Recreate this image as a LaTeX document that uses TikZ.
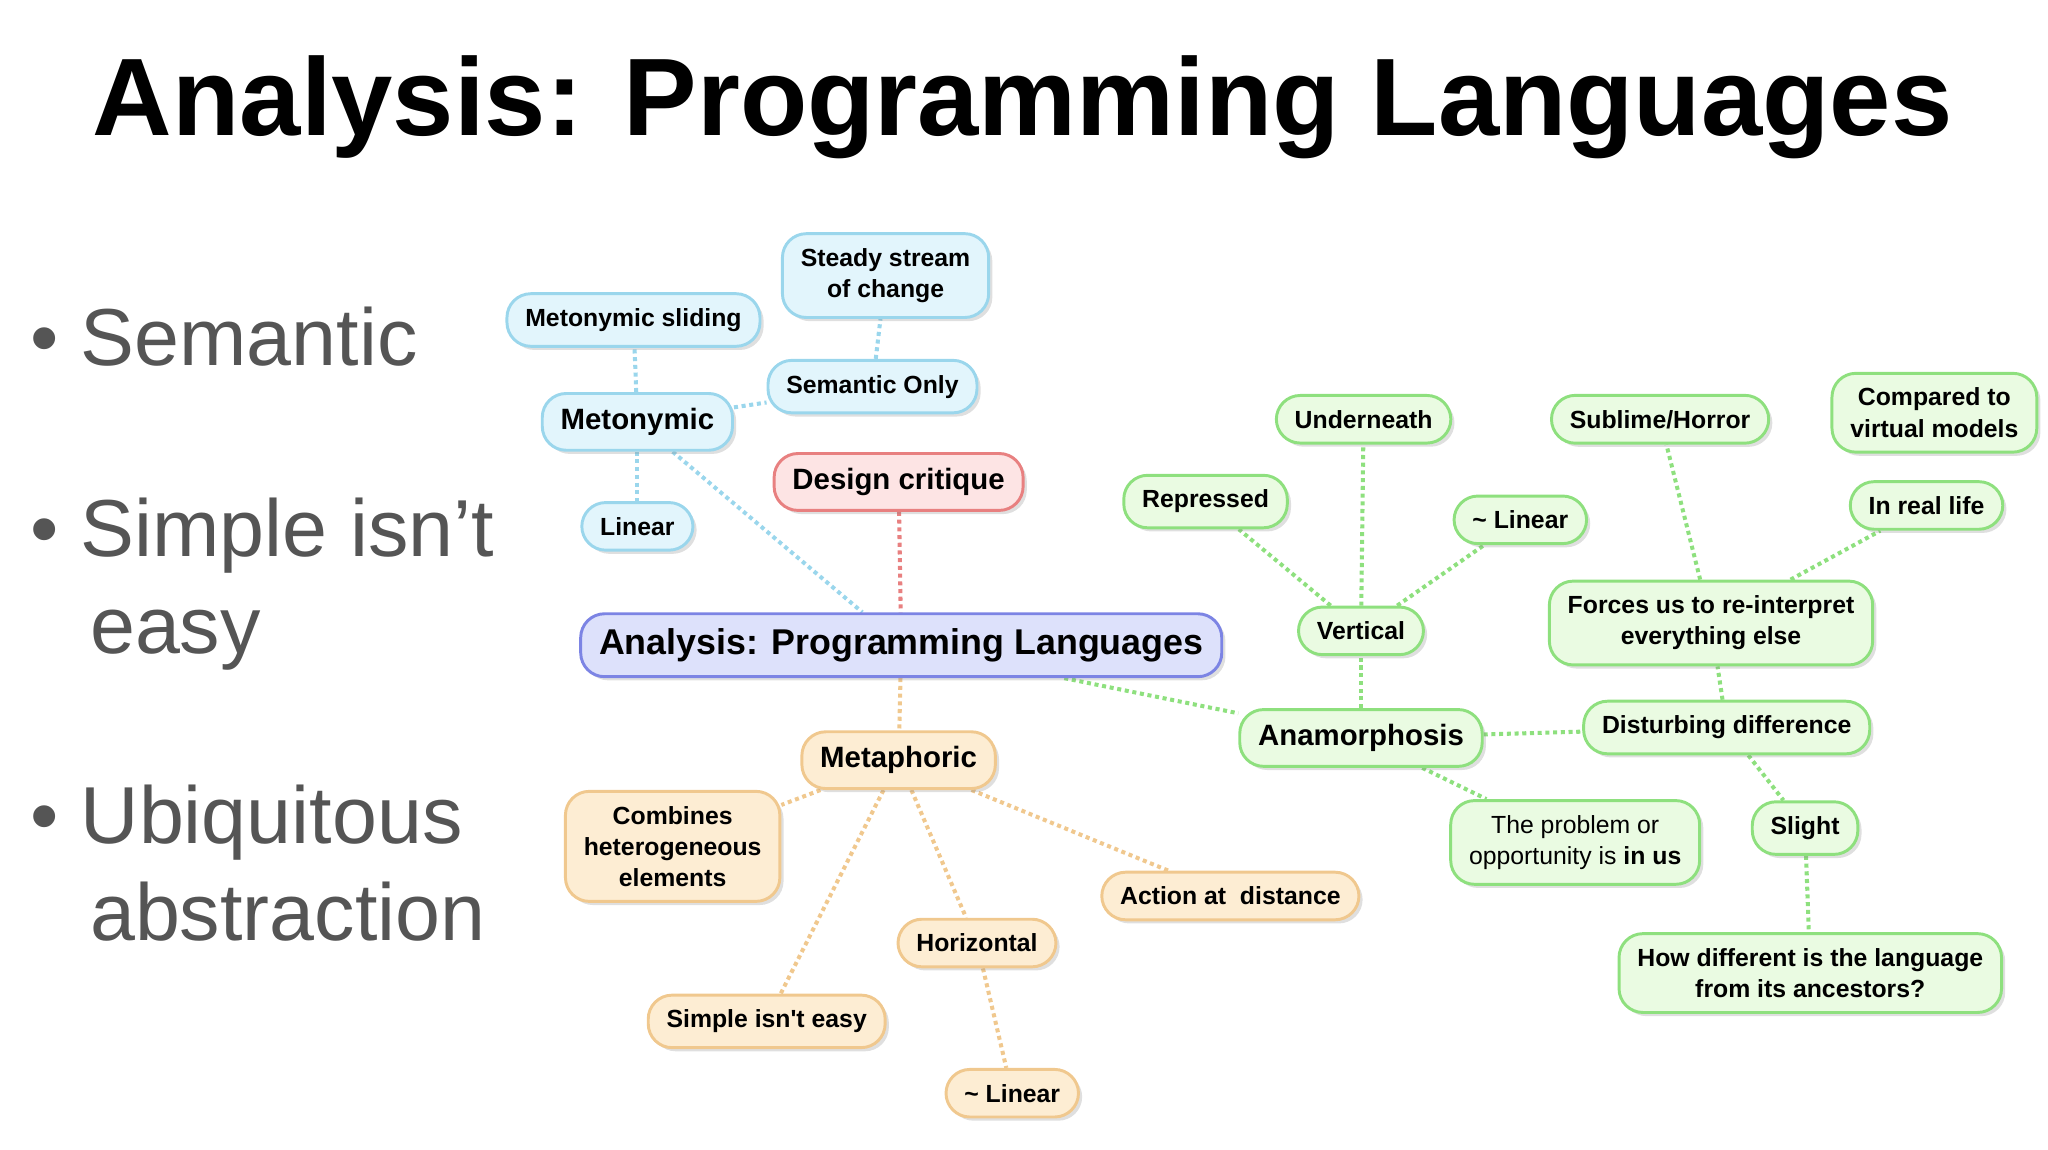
\documentclass[tikz,border=0pt]{standalone}
\usepackage{fontspec}
\setmainfont{Liberation Sans}
\usetikzlibrary{shadows,backgrounds}
\definecolor{bfill}{HTML}{E2F5FC}\definecolor{bline}{HTML}{9AD6EC}
\definecolor{rfill}{HTML}{FDE4E4}\definecolor{rline}{HTML}{E88080}
\definecolor{cfill}{HTML}{DDE1FB}\definecolor{cline}{HTML}{7C84E4}
\definecolor{ofill}{HTML}{FDEDD3}\definecolor{oline}{HTML}{F0C88E}
\definecolor{gfill}{HTML}{EAFBE2}\definecolor{gline}{HTML}{8EE07E}
\definecolor{bul}{HTML}{555555}
\tikzset{
 mm/.style={rounded corners=13pt, line width=1.6pt, align=center, font=\fontsize{13.5}{17}\selectfont\bfseries,
   inner xsep=10pt, inner ysep=8pt, drop shadow={shadow xshift=2pt,shadow yshift=-2pt,opacity=0.25}},
 bn/.style={mm, draw=bline, fill=bfill},
 rn/.style={mm, draw=rline, fill=rfill},
 cn/.style={mm, draw=cline, fill=cfill},
 on/.style={mm, draw=oline, fill=ofill},
 gn/.style={mm, draw=gline, fill=gfill},
 big/.style={font=\fontsize{16}{19}\selectfont\bfseries},
 be/.style={draw=bline, line width=2.2pt, dotted},
 re/.style={draw=rline, line width=2.2pt, dotted},
 oe/.style={draw=oline, line width=2.2pt, dotted},
 ge/.style={draw=gline, line width=2.2pt, dotted},
 bt/.style={anchor=base west, text=bul, font=\fontsize{44}{50}\selectfont}
}
\begin{document}
\begin{tikzpicture}[x=0.025cm,y=-0.025cm]
\useasboundingbox (0,0) rectangle (1568,880);
\node[font=\fontsize{60}{70}\selectfont\bfseries] (title) at (783,82) {Analysis: Programming Languages};
\node[bt] (b1) at (18,280) {\textbullet\ Semantic};
\node[bt] (b2) at (18,426) {\textbullet\ Simple isn’t};
\node[bt] (b2b) at (64,500) {easy};
\node[bt] (b3) at (18,646) {\textbullet\ Ubiquitous};
\node[bt] (b3b) at (64,720) {abstraction};

\node[bn] (ms) at (485,245) {Metonymic sliding};
\node[bn] (ss) at (678,211) {Steady stream\\of change};
\node[bn] (so) at (668,296) {Semantic Only};
\node[bn,big] (met) at (488,323) {Metonymic};
\node[bn] (lin1) at (488,403) {Linear};
\node[rn,big] (dc) at (688,369) {Design critique};
\node[cn,font=\fontsize{19.5}{22}\selectfont\bfseries] (c) at (690,494) {Analysis: Programming Languages};
\node[on,big] (mph) at (688,582) {Metaphoric};
\node[on] (comb) at (515,648) {Combines\\heterogeneous\\elements};
\node[on] (act) at (942,686) {Action at~ distance};
\node[on] (hor) at (748,722) {Horizontal};
\node[on] (sie) at (587,782) {Simple isn\textquotesingle t easy};
\node[on] (lin2) at (775,837) {\textasciitilde\ Linear};
\node[gn] (und) at (1044,321) {Underneath};
\node[gn] (sub) at (1271,321) {Sublime/Horror};
\node[gn] (cmp) at (1481,316) {Compared to\\virtual models};
\node[gn] (rep) at (923,384) {Repressed};
\node[gn] (lin3) at (1164,398) {\textasciitilde\ Linear};
\node[gn] (irl) at (1475,387) {In real life};
\node[gn] (ver) at (1042,483) {Vertical};
\node[gn] (frc) at (1310,477) {Forces us to re-interpret\\everything else};
\node[gn,big] (ana) at (1042,565) {Anamorphosis};
\node[gn] (dis) at (1322,557) {Disturbing difference};
\node[gn,font=\fontsize{13.5}{17}\selectfont] (prb) at (1206,645) {The problem or\\opportunity is \textbf{in us}};
\node[gn] (sl) at (1382,634) {Slight};
\node[gn] (hd) at (1386,745) {How different is the language\\from its ancestors?};

\begin{scope}[on background layer]
\draw[be] (met) -- (ms);
\draw[be] (met) -- (so);
\draw[be] (so) -- (ss);
\draw[be] (met) -- (lin1);
\draw[be] (met) -- (c);
\draw[re] (dc) -- (c);
\draw[oe] (c) -- (mph);
\draw[oe] (mph) -- (comb);
\draw[oe] (mph) -- (sie);
\draw[oe] (mph) -- (hor);
\draw[oe] (mph) -- (act);
\draw[oe] (hor) -- (lin2);
\draw[ge] (c) -- (ana);
\draw[ge] (ana) -- (ver);
\draw[ge] (ver) -- (und);
\draw[ge] (ver) -- (rep);
\draw[ge] (ver) -- (lin3);
\draw[ge] (ana) -- (dis);
\draw[ge] (ana) -- (prb);
\draw[ge] (dis) -- (frc);
\draw[ge] (frc) -- (sub);
\draw[ge] (frc) -- (irl);
\draw[ge] (dis) -- (sl);
\draw[ge] (sl) -- (hd);
\end{scope}
\end{tikzpicture}
\end{document}
